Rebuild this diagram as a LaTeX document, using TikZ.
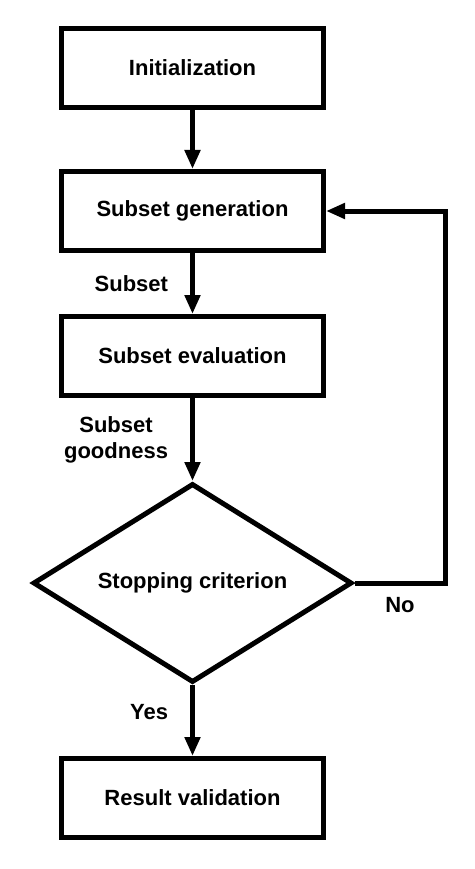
\documentclass[tikz,border=0pt]{standalone}
\usepackage{fontspec}
\setmainfont{Liberation Sans}
\usetikzlibrary{shapes.geometric, arrows.meta, positioning}

\begin{document}
\begin{tikzpicture}[x=1pt, y=1pt, line width=5pt,
		font=\fontsize{22}{26}\selectfont\bfseries,
		box/.style={draw, rectangle, minimum width=262pt, minimum height=79pt, inner sep=0pt},
		decision/.style={draw, diamond, aspect=1.6, minimum width=319pt, minimum height=199pt, inner sep=0pt},
		lbl/.style={inner sep=0pt, align=center},
		arr/.style={-{Triangle[length=19pt,width=15pt]}}]
		\useasboundingbox (0,0) rectangle (474,-869);
		\node[box] (init) at (192.5,-68) {Initialization};
		\node[box, below=59pt of init] (gen) {Subset generation};
		\node[box, below=61pt of gen] (eval) {Subset evaluation};
		\node[decision, below=83pt of eval] (stop) {Stopping criterion};
		\node[box, below=71pt of stop] (valid) {Result validation};
		\draw[arr] (init) -- (gen);
		\foreach \from/\to/\txt/\p in {gen/eval/Subset/.5, eval/stop/{Subset\\goodness}/.5, stop/valid/Yes/.38}
			\draw[arr] (\from) -- node[lbl, left=22pt, pos=\p] {\txt} (\to);
		\draw[arr] (stop.east) -- node[lbl, below=12pt] {No} ++(91,0) |- (gen.east);
	\end{tikzpicture}
\end{document}
